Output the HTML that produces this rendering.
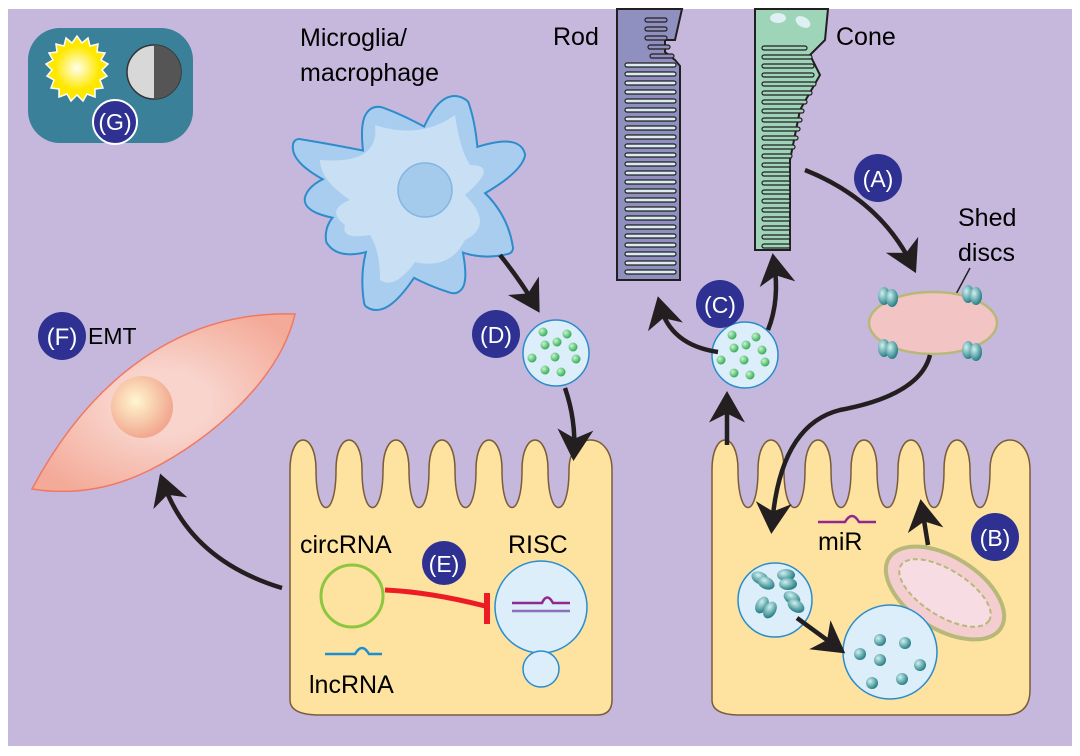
<!DOCTYPE html>
<html><head><meta charset="utf-8"><style>
html,body{margin:0;padding:0;background:#fff;}
svg{display:block;}
text{font-family:"Liberation Sans",sans-serif;}
</style></head><body>
<svg width="1080" height="756" viewBox="0 0 1080 756" xmlns="http://www.w3.org/2000/svg">
<defs>
<marker id="ah" markerWidth="8" markerHeight="8" refX="5" refY="4" orient="auto" markerUnits="strokeWidth">
<path d="M0,0 L7,4 L0,8 L2,4 Z" fill="#231f20"/></marker>
<radialGradient id="nuc" cx="0.4" cy="0.4" r="0.6"><stop offset="0" stop-color="#fff6d0"/><stop offset="1" stop-color="#f2a890"/></radialGradient>
<radialGradient id="sun" cx="0.5" cy="0.5" r="0.5"><stop offset="0" stop-color="#fffff0"/><stop offset="1" stop-color="#ffe800"/></radialGradient>
<radialGradient id="bead" cx="0.35" cy="0.35" r="0.7"><stop offset="0" stop-color="#d0f0f0"/><stop offset="1" stop-color="#1f7a80"/></radialGradient>
<radialGradient id="gbead" cx="0.35" cy="0.35" r="0.7"><stop offset="0" stop-color="#c8f5d0"/><stop offset="1" stop-color="#2da850"/></radialGradient>
<radialGradient id="mg" cx="0.5" cy="0.5" r="0.6"><stop offset="0.5" stop-color="#c6def4"/><stop offset="1" stop-color="#8ec0ea"/></radialGradient>
<radialGradient id="emt" cx="0.5" cy="0.5" r="0.6"><stop offset="0.3" stop-color="#f8d4cc"/><stop offset="1" stop-color="#f4aa98"/></radialGradient>
</defs>
<rect x="8" y="9" width="1064" height="737" fill="#c6b8dc"/>

<!-- G box -->
<rect x="28" y="28" width="165" height="115" rx="32" fill="#3a8099"/>
<g transform="translate(77,68)">
<polygon fill="#ffe800" stroke="#fff" stroke-width="1.5" points="0,-32 5,-25 11,-30 13,-22 21,-24 20,-16 28,-15 24,-8 31,-4 25,2 30,8 23,12 26,20 18,21 18,29 10,26 6,33 0,27 -6,33 -10,26 -18,29 -18,21 -26,20 -23,12 -30,8 -25,2 -31,-4 -24,-8 -28,-15 -20,-16 -21,-24 -13,-22 -11,-30 -5,-25"/>
<circle r="22" fill="url(#sun)"/></g>
<circle cx="154" cy="72" r="27" fill="#d8d8d8" stroke="#333" stroke-width="1.5"/>
<path d="M154,45 A27,27 0 0 1 154,99 Z" fill="#555"/>
<circle cx="115" cy="122" r="22" fill="#2e3192" stroke="#fff" stroke-width="2"/>
<text x="115" y="130" font-size="23" fill="#fff" text-anchor="middle">(G)</text>

<!-- Labels -->
<text x="300" y="46" font-size="25">Microglia/</text>
<text x="300" y="81" font-size="25">macrophage</text>
<text x="553" y="45" font-size="25">Rod</text>
<text x="836" y="45" font-size="25">Cone</text>
<text x="958" y="226" font-size="25">Shed</text>
<text x="958" y="261" font-size="25">discs</text>
<line x1="970" y1="268" x2="955" y2="296" stroke="#231f20" stroke-width="1.5"/>

<!-- Rod -->
<path d="M617,9 L617,280 L680,280 L680,66 L675,60 L665,52 L665,40 L675,40 L682,9 Z" fill="#8f8fc0" stroke="#231f20" stroke-width="2"/>
<g fill="#d8ecf2" stroke="#231f20" stroke-width="1.2">
<rect x="625" y="63" width="51" height="4" rx="2"/><rect x="625" y="72" width="51" height="4" rx="2"/><rect x="625" y="81" width="51" height="4" rx="2"/><rect x="625" y="90" width="51" height="4" rx="2"/><rect x="625" y="99" width="51" height="4" rx="2"/><rect x="625" y="108" width="51" height="4" rx="2"/><rect x="625" y="117" width="51" height="4" rx="2"/><rect x="625" y="126" width="51" height="4" rx="2"/><rect x="625" y="135" width="51" height="4" rx="2"/><rect x="625" y="144" width="51" height="4" rx="2"/><rect x="625" y="153" width="51" height="4" rx="2"/><rect x="625" y="162" width="51" height="4" rx="2"/><rect x="625" y="171" width="51" height="4" rx="2"/><rect x="625" y="180" width="51" height="4" rx="2"/><rect x="625" y="189" width="51" height="4" rx="2"/><rect x="625" y="198" width="51" height="4" rx="2"/><rect x="625" y="207" width="51" height="4" rx="2"/><rect x="625" y="216" width="51" height="4" rx="2"/><rect x="625" y="225" width="51" height="4" rx="2"/><rect x="625" y="234" width="51" height="4" rx="2"/><rect x="625" y="243" width="51" height="4" rx="2"/><rect x="625" y="252" width="51" height="4" rx="2"/><rect x="625" y="261" width="51" height="4" rx="2"/><rect x="625" y="270" width="51" height="4" rx="2"/>
<rect x="645" y="18" width="22" height="4" rx="2" fill="#8f8fc0"/><rect x="645" y="27" width="22" height="4" rx="2" fill="#8f8fc0"/><rect x="645" y="36" width="22" height="4" rx="2" fill="#8f8fc0"/><rect x="648" y="45" width="22" height="4" rx="2" fill="#8f8fc0"/><rect x="650" y="54" width="24" height="4" rx="2" fill="#8f8fc0"/>
</g>

<!-- Cone -->
<path d="M755,9 L755,250 L790,250 L790,160 L800,110 L820,75 L810,55 L825,40 L828,9 Z" fill="#9ed4b8" stroke="#231f20" stroke-width="2"/>
<ellipse cx="778" cy="18" rx="8" ry="5" fill="#dff0f4"/><ellipse cx="803" cy="22" rx="8" ry="5" fill="#dff0f4" transform="rotate(30 803 22)"/>
<g fill="#9ed4b8" stroke="#231f20" stroke-width="1.2">
<rect x="762" y="46" width="45" height="4" rx="2"/><rect x="762" y="55" width="50" height="4" rx="2"/><rect x="762" y="64" width="52" height="4" rx="2"/><rect x="762" y="73" width="52" height="4" rx="2"/><rect x="762" y="82" width="54" height="4" rx="2"/><rect x="762" y="91" width="50" height="4" rx="2"/><rect x="762" y="100" width="45" height="4" rx="2"/><rect x="762" y="109" width="42" height="4" rx="2"/><rect x="762" y="118" width="40" height="4" rx="2"/><rect x="762" y="127" width="38" height="4" rx="2"/><rect x="762" y="136" width="36" height="4" rx="2"/><rect x="762" y="145" width="33" height="4" rx="2"/><rect x="762" y="154" width="30" height="4" rx="2"/><rect x="762" y="163" width="28" height="4" rx="2"/><rect x="762" y="172" width="28" height="4" rx="2"/><rect x="762" y="181" width="28" height="4" rx="2"/><rect x="762" y="190" width="28" height="4" rx="2"/><rect x="762" y="199" width="28" height="4" rx="2"/><rect x="762" y="208" width="28" height="4" rx="2"/><rect x="762" y="217" width="28" height="4" rx="2"/><rect x="762" y="226" width="28" height="4" rx="2"/><rect x="762" y="235" width="28" height="4" rx="2"/><rect x="762" y="244" width="28" height="4" rx="2"/>
</g>

<!-- Microglia (rounded via thick round-join strokes) -->
<path id="mgp" d="M299,145 Q330,150 370,158 Q363,110 380,113 Q400,120 427,135 Q445,92 463,105 Q470,125 472,155 Q515,140 519,155 Q515,170 475,192 Q502,215 507,248 Q480,255 455,243 Q465,290 452,287 Q430,280 412,270 Q385,312 370,302 Q365,270 375,243 Q342,255 332,240 Q330,225 345,214 Q308,208 311,198 Q315,187 337,180 Q296,160 299,145 Z" fill="#2d8ccc" stroke="#2d8ccc" stroke-width="14" stroke-linejoin="round"/>
<path d="M299,145 Q330,150 370,158 Q363,110 380,113 Q400,120 427,135 Q445,92 463,105 Q470,125 472,155 Q515,140 519,155 Q515,170 475,192 Q502,215 507,248 Q480,255 455,243 Q465,290 452,287 Q430,280 412,270 Q385,312 370,302 Q365,270 375,243 Q342,255 332,240 Q330,225 345,214 Q308,208 311,198 Q315,187 337,180 Q296,160 299,145 Z" fill="#a9cdee" stroke="#a9cdee" stroke-width="10" stroke-linejoin="round"/>
<path d="M320,160 Q380,165 375,125 Q420,140 455,115 Q460,150 470,165 Q500,165 465,195 Q495,225 465,240 Q450,270 415,262 Q395,290 380,280 Q380,250 370,235 Q340,240 345,225 Q325,210 350,200 Q320,180 320,160 Z" fill="#c8dff4"/>
<circle cx="425" cy="190" r="27" fill="#a4cbec" stroke="#84b6e2" stroke-width="1.5"/>

<!-- EMT cell -->
<path d="M32,489 C90,380 180,310 295,314 C280,380 210,440 150,470 C110,490 70,495 32,489 Z" fill="url(#emt)" stroke="#f07860" stroke-width="1.5"/>
<circle cx="142" cy="407" r="31" fill="url(#nuc)"/>
<circle cx="62" cy="336" r="24" fill="#2e3192"/>
<text x="62" y="345" font-size="24" fill="#fff" text-anchor="middle">(F)</text>
<text x="88" y="344" font-size="23">EMT</text>

<!-- Left RPE cell -->
<path d="M290,700 L290,470 C290,430 316,430 316,470 C316,520 336,520 336,470 C336,430 362,430 362,470 C362,520 383,520 383,470 C383,430 409,430 409,470 C409,520 429,520 429,470 C429,430 455,430 455,470 C455,520 476,520 476,470 C476,430 502,430 502,470 C502,520 522,520 522,470 C522,430 548,430 548,470 C548,520 569,520 569,470 C569,430 612,430 612,470 L612,700 Q612,715 597,715 L320,715 Q290,715 290,700 Z" fill="#fde39f" stroke="#7a5c3a" stroke-width="1.5"/>
<!-- Right RPE cell -->
<path d="M712,700 L712,470 C712,430 738,430 738,470 C738,520 758,520 758,470 C758,430 784,430 784,470 C784,520 805,520 805,470 C805,430 831,430 831,470 C831,520 851,520 851,470 C851,430 877,430 877,470 C877,520 898,520 898,470 C898,430 924,430 924,470 C924,520 944,520 944,470 C944,430 970,430 970,470 C970,520 990,520 990,470 C990,430 1030,430 1030,470 L1030,690 Q1030,715 1005,715 L740,715 Q712,715 712,700 Z" fill="#fde39f" stroke="#7a5c3a" stroke-width="1.5"/>

<!-- Left cell contents -->
<text x="300" y="553" font-size="25">circRNA</text>
<text x="508" y="553" font-size="25">RISC</text>
<circle cx="352" cy="596" r="31" fill="none" stroke="#8dc63f" stroke-width="3"/>
<path d="M325,654 L355,654 Q362,642 369,654 L382,654" fill="none" stroke="#1d8ed0" stroke-width="2.5"/>
<text x="309" y="693" font-size="25">lncRNA</text>
<circle cx="541" cy="607" r="46" fill="#dbeefa" stroke="#2b8ccc" stroke-width="1.5"/>
<circle cx="541" cy="669" r="18" fill="#dbeefa" stroke="#2b8ccc" stroke-width="1.5"/>
<path d="M512,603 L542,603 Q547,592 553,603 L570,603" fill="none" stroke="#92278f" stroke-width="2.5"/>
<line x1="512" y1="611" x2="570" y2="611" stroke="#8c6fb8" stroke-width="2.5"/>
<path d="M385,590 Q430,592 485,606" fill="none" stroke="#ed1c24" stroke-width="5"/>
<line x1="487" y1="593" x2="487" y2="624" stroke="#ed1c24" stroke-width="6"/>
<circle cx="444" cy="563" r="22" fill="#2e3192"/>
<text x="444" y="572" font-size="23" fill="#fff" text-anchor="middle">(E)</text>

<!-- Right cell contents -->
<path d="M818,522 L845,522 Q852,510 859,522 L876,522" fill="none" stroke="#92278f" stroke-width="2.5"/>
<text x="818" y="550" font-size="25">miR</text>
<g transform="rotate(32 945 593)">
<ellipse cx="945" cy="593" rx="66" ry="36" fill="#f4cdd0" stroke="#b8b878" stroke-width="4"/>
<ellipse cx="945" cy="593" rx="52" ry="23" fill="#f7dde3" stroke="#b8b878" stroke-width="2" stroke-dasharray="5 3"/>
</g>
<circle cx="995" cy="537" r="24" fill="#2e3192"/>
<text x="995" y="546" font-size="23" fill="#fff" text-anchor="middle">(B)</text>
<circle cx="775" cy="600" r="37" fill="#dbeefa" stroke="#2b8ccc" stroke-width="1.5"/>
<g fill="url(#bead)">
<ellipse cx="760" cy="578" rx="9" ry="6" transform="rotate(25 760 578)"/><ellipse cx="766" cy="583" rx="9" ry="6" transform="rotate(25 766 583)"/>
<ellipse cx="786" cy="575" rx="9" ry="6"/><ellipse cx="788" cy="584" rx="9" ry="6"/>
<ellipse cx="762" cy="605" rx="6" ry="9" transform="rotate(30 762 605)"/><ellipse cx="770" cy="610" rx="6" ry="9" transform="rotate(30 770 610)"/>
<ellipse cx="792" cy="598" rx="9" ry="6" transform="rotate(30 792 598)"/><ellipse cx="796" cy="606" rx="9" ry="6" transform="rotate(30 796 606)"/>
</g>
<circle cx="890" cy="652" r="47" fill="#dbeefa" stroke="#2b8ccc" stroke-width="1.5"/>
<g fill="url(#bead)">
<circle cx="880" cy="640" r="6"/><circle cx="905" cy="643" r="6"/><circle cx="860" cy="654" r="6"/><circle cx="880" cy="660" r="6"/><circle cx="920" cy="665" r="6"/><circle cx="872" cy="683" r="6"/><circle cx="902" cy="679" r="6"/>
</g>

<!-- Shed discs -->
<ellipse cx="933" cy="323" rx="64" ry="31" fill="#f2c4c4" stroke="#b8b878" stroke-width="2.5"/>
<g fill="url(#bead)">
<ellipse cx="884" cy="296" rx="6" ry="9"/><ellipse cx="892" cy="298" rx="6" ry="9"/>
<ellipse cx="968" cy="294" rx="6" ry="9"/><ellipse cx="976" cy="296" rx="6" ry="9"/>
<ellipse cx="884" cy="348" rx="6" ry="9"/><ellipse cx="892" cy="350" rx="6" ry="9"/>
<ellipse cx="968" cy="350" rx="6" ry="9"/><ellipse cx="976" cy="352" rx="6" ry="9"/>
</g>

<!-- Vesicles D and C -->
<circle cx="556" cy="353" r="33" fill="#dbeefa" stroke="#2b8ccc" stroke-width="1.5"/>
<g fill="url(#gbead)">
<circle cx="543" cy="332" r="4.5"/><circle cx="567" cy="334" r="4.5"/><circle cx="545" cy="345" r="4.5"/><circle cx="557" cy="342" r="4.5"/><circle cx="573" cy="347" r="4.5"/><circle cx="532" cy="358" r="4.5"/><circle cx="555" cy="357" r="4.5"/><circle cx="576" cy="359" r="4.5"/><circle cx="545" cy="370" r="4.5"/><circle cx="561" cy="372" r="4.5"/>
</g>
<circle cx="745" cy="355" r="33" fill="#dbeefa" stroke="#2b8ccc" stroke-width="1.5"/>
<g fill="url(#gbead)">
<circle cx="732" cy="335" r="4.5"/><circle cx="756" cy="337" r="4.5"/><circle cx="734" cy="348" r="4.5"/><circle cx="746" cy="345" r="4.5"/><circle cx="762" cy="350" r="4.5"/><circle cx="721" cy="360" r="4.5"/><circle cx="744" cy="360" r="4.5"/><circle cx="765" cy="362" r="4.5"/><circle cx="734" cy="373" r="4.5"/><circle cx="750" cy="375" r="4.5"/>
</g>
<circle cx="496" cy="334" r="24" fill="#2e3192"/>
<text x="496" y="343" font-size="23" fill="#fff" text-anchor="middle">(D)</text>
<circle cx="720" cy="304" r="24" fill="#2e3192"/>
<text x="720" y="313" font-size="23" fill="#fff" text-anchor="middle">(C)</text>
<circle cx="878" cy="178" r="24" fill="#2e3192"/>
<text x="878" y="187" font-size="23" fill="#fff" text-anchor="middle">(A)</text>

<!-- Arrows -->
<g fill="none" stroke="#231f20" stroke-width="4.5" marker-end="url(#ah)">
<path d="M805,170 Q880,200 912,265"/>
<path d="M930,355 Q920,395 840,410 Q780,425 772,525"/>
<path d="M797,618 L838,648"/>
<path d="M928,545 L922,508"/>
<path d="M718,352 Q670,345 660,305"/>
<path d="M768,330 Q780,300 774,262"/>
<path d="M727,445 L727,400"/>
<path d="M500,255 Q520,280 535,305"/>
<path d="M565,388 Q576,420 574,452"/>
<path d="M282,588 Q190,560 163,482"/>
</g>
</svg>
</body></html>
